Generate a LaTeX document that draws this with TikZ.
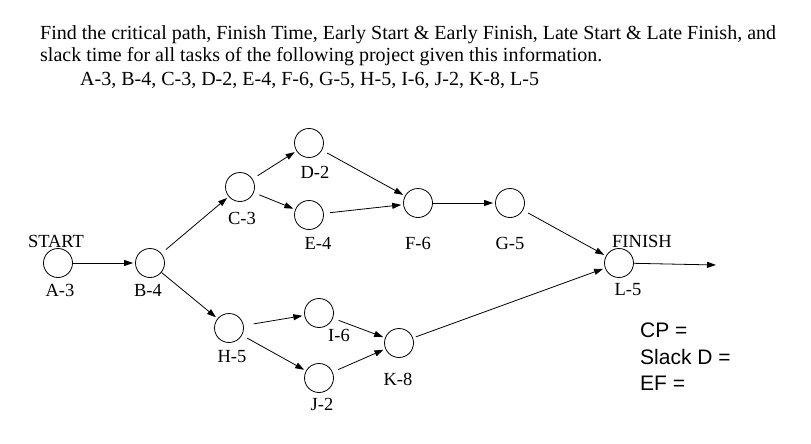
\documentclass[tikz,border=0pt]{standalone}
\usepackage{fontspec}
\setmainfont{Liberation Serif}
\setsansfont{Liberation Sans}
\usetikzlibrary{arrows.meta}
\begin{document}
\begin{tikzpicture}[x=1pt,y=-1pt,
  ev/.style={circle,draw,line width=0.8pt,minimum size=29pt,inner sep=0pt},
  lab/.style={font=\fontsize{18.5}{18.5}\selectfont,inner sep=0pt},
  side/.style={anchor=west,font=\sffamily\fontsize{21}{21}\selectfont,inner sep=0pt},
  con/.style={line width=0.8pt,-{Triangle[length=9pt,width=6pt]},shorten >=2pt,shorten <=6pt}]
\useasboundingbox (0,0) rectangle (811,444);
\node[anchor=west,align=left,font=\fontsize{20}{22}\selectfont,inner sep=0pt] (t) at (40,46)
 {Find the critical path, Finish Time, Early Start \& Early Finish, Late Start \& Late Finish, and\\
  slack time for all tasks of the following project given this information.};
\node[anchor=west,font=\fontsize{20}{20}\selectfont,inner sep=0pt] (t2) at (80,80) {A-3, B-4, C-3, D-2, E-4, F-6, G-5, H-5, I-6, J-2, K-8, L-5};
\node[ev] (A) at (58,263) {};
\node[ev] (B) at (150,263) {};
\node[ev] (C) at (240,187) {};
\node[ev] (D) at (309,143) {};
\node[ev] (E) at (309,215) {};
\node[ev] (F) at (418,203) {};
\node[ev] (G) at (510,203) {};
\node[ev] (L) at (619,263) {};
\node[ev] (H) at (229,328) {};
\node[ev] (I) at (319,313) {};
\node[ev] (J) at (319,378) {};
\node[ev] (K) at (399,343) {};
\coordinate (out) at (716,265);
\draw[con,shorten <=0pt] (A) -- (B);
\draw[con] (B) -- (C);
\draw[con] (C) -- (D);
\draw[con] (C) -- (E);
\draw[con] (D) -- (F);
\draw[con] (E) -- (F);
\draw[con,shorten <=0pt] (F) -- (G);
\draw[con] (G) -- (L);
\draw[con,shorten <=0pt] (B) -- (H);
\draw[con,shorten <=10pt] (H) -- (I);
\draw[con] (H) -- (J);
\draw[con] (I) -- (K);
\draw[con] (J) -- (K);
\draw[con,shorten <=3pt] (K) -- (L);
\draw[con,shorten <=0pt,shorten >=0pt] (L) -- (out);
\node[lab] (ls) at (56,241) {START};
\node[lab] (la) at (60,290) {A-3};
\node[lab] (lb) at (148,290) {B-4};
\node[lab] (lc) at (242,218) {C-3};
\node[lab] (ld) at (315,172) {D-2};
\node[lab] (le) at (318,243) {E-4};
\node[lab] (lf) at (418,243) {F-6};
\node[lab] (lg) at (510,243) {G-5};
\node[lab] (lfi) at (642,241) {FINISH};
\node[lab] (ll) at (628,290) {L-5};
\node[lab] (lh) at (232,357) {H-5};
\node[lab] (li) at (339,335) {I-6};
\node[lab] (lj) at (322,404) {J-2};
\node[lab] (lk) at (398,379) {K-8};
\node[side] (cp) at (640,330) {CP =};
\node[side] (sd) at (640,357) {Slack D =};
\node[side] (ef) at (640,383) {EF =};
\end{tikzpicture}
\end{document}
